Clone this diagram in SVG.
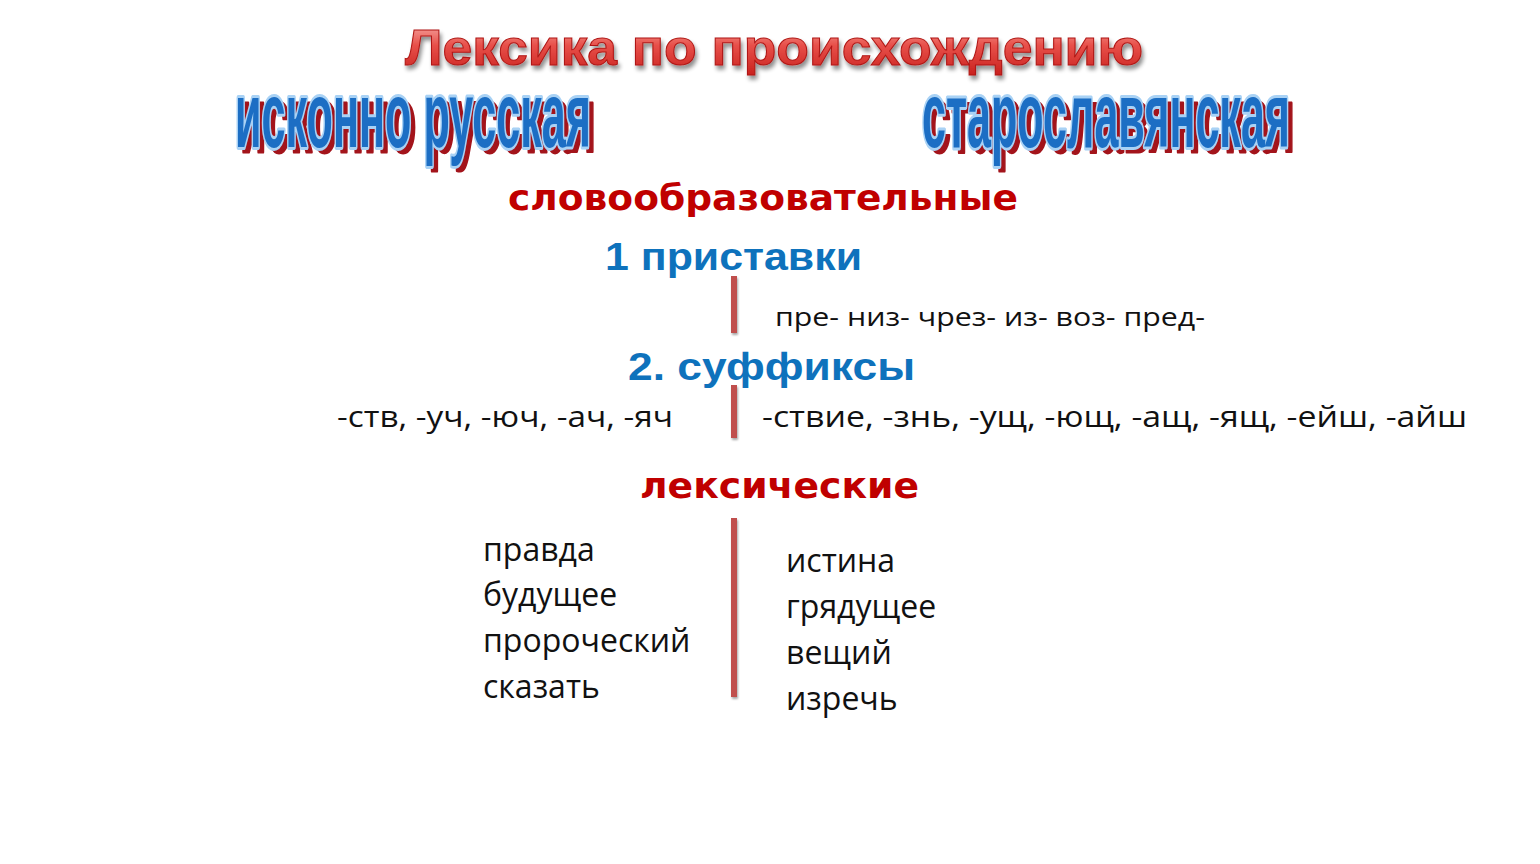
<svg xmlns="http://www.w3.org/2000/svg" width="1540" height="864" viewBox="0 0 1540 864">
<defs>
<linearGradient id="redg" x1="0" y1="0" x2="0" y2="1">
<stop offset="0" stop-color="#F7B5B0"/>
<stop offset="0.45" stop-color="#E8504A"/>
<stop offset="1" stop-color="#C8201C"/>
</linearGradient>
<filter id="sh" x="-5%" y="-20%" width="110%" height="150%">
<feGaussianBlur in="SourceAlpha" stdDeviation="2"/>
<feOffset dx="2" dy="4" result="b"/>
<feComponentTransfer><feFuncA type="linear" slope="0.45"/></feComponentTransfer>
<feMerge><feMergeNode/><feMergeNode in="SourceGraphic"/></feMerge>
</filter>
<filter id="lsh" filterUnits="userSpaceOnUse" x="700" y="260" width="80" height="460">
<feGaussianBlur in="SourceAlpha" stdDeviation="1.2"/>
<feOffset dx="1" dy="2"/>
<feComponentTransfer><feFuncA type="linear" slope="0.35"/></feComponentTransfer>
<feMerge><feMergeNode/><feMergeNode in="SourceGraphic"/></feMerge>
</filter>
</defs>
<style>
.title{font-family:"Liberation Sans",Arial,sans-serif;font-weight:bold;font-size:50px;fill:url(#redg);stroke:#B01815;stroke-width:1}
.bigshadow{font-family:"Liberation Sans",Arial,sans-serif;font-weight:bold;font-size:92px;fill:#A3141B;stroke:#A3141B;stroke-width:3;stroke-linejoin:round}
.big{font-family:"Liberation Sans",Arial,sans-serif;font-weight:bold;font-size:92px;fill:#1C6EC4;stroke:#A9D2F5;stroke-width:6;paint-order:stroke;stroke-linejoin:round}
.head{font-family:"DejaVu Sans",sans-serif;font-weight:bold;font-size:36px;fill:#C00000}
.sub{font-family:"Liberation Sans",Arial,sans-serif;font-weight:bold;font-size:38px;fill:#0E72BC}
.body{font-family:"Open Sans","Noto Sans",sans-serif;font-size:32px;fill:#111111}
.mid{font-family:"Open Sans","Noto Sans",sans-serif;font-size:30px;fill:#111111}
.small{font-family:"Open Sans","Noto Sans",sans-serif;font-size:26px;fill:#111111}
.vline{stroke:#C0504D;stroke-width:6;fill:none}
</style>
<rect width="1540" height="864" fill="#FFFFFF"/>
<g id="title" filter="url(#sh)">
<text class="title" x="405" y="65" textLength="738" lengthAdjust="spacingAndGlyphs">Лексика по происхождению</text>
</g>
<g id="native">
<text class="bigshadow" x="240" y="152" textLength="356" lengthAdjust="spacingAndGlyphs">исконно русская</text>
<text class="big" x="235" y="147" textLength="356" lengthAdjust="spacingAndGlyphs">исконно русская</text>
</g>
<g id="oldslavonic">
<text class="bigshadow" x="927" y="152" textLength="368" lengthAdjust="spacingAndGlyphs">старославянская</text>
<text class="big" x="922" y="147" textLength="368" lengthAdjust="spacingAndGlyphs">старославянская</text>
</g>
<g id="word-formation">
<text class="head" x="508" y="210" textLength="510" lengthAdjust="spacingAndGlyphs">словообразовательные</text>
</g>
<g id="prefixes">
<text class="sub" x="605" y="270" textLength="257" lengthAdjust="spacingAndGlyphs">1 приставки</text>
<text class="small" x="775" y="326" textLength="430" lengthAdjust="spacingAndGlyphs">пре-  низ- чрез- из- воз- пред-</text>
</g>
<g id="suffixes">
<text class="sub" x="628" y="380" textLength="287" lengthAdjust="spacingAndGlyphs">2. суффиксы</text>
<text class="mid" x="337" y="427" textLength="336" lengthAdjust="spacingAndGlyphs">-ств, -уч, -юч, -ач, -яч</text>
<text class="mid" x="762" y="427" textLength="705" lengthAdjust="spacingAndGlyphs">-ствие, -знь, -ущ, -ющ, -ащ, -ящ, -ейш, -айш</text>
</g>
<g id="lexical">
<text class="head" x="640" y="498" textLength="279" lengthAdjust="spacingAndGlyphs">лексические</text>
</g>
<g id="native-words">
<text class="body" x="483" y="561">правда</text>
<text class="body" x="483" y="606">будущее</text>
<text class="body" x="483" y="652">пророческий</text>
<text class="body" x="483" y="698">сказать</text>
</g>
<g id="slavonic-words">
<text class="body" x="786" y="572">истина</text>
<text class="body" x="786" y="618">грядущее</text>
<text class="body" x="786" y="664">вещий</text>
<text class="body" x="786" y="710">изречь</text>
</g>
<g id="connectors" filter="url(#lsh)">
<line class="vline" x1="734" y1="276" x2="734" y2="333"/>
<line class="vline" x1="734" y1="385" x2="734" y2="438"/>
<line class="vline" x1="734" y1="518" x2="734" y2="697"/>
</g>
</svg>
